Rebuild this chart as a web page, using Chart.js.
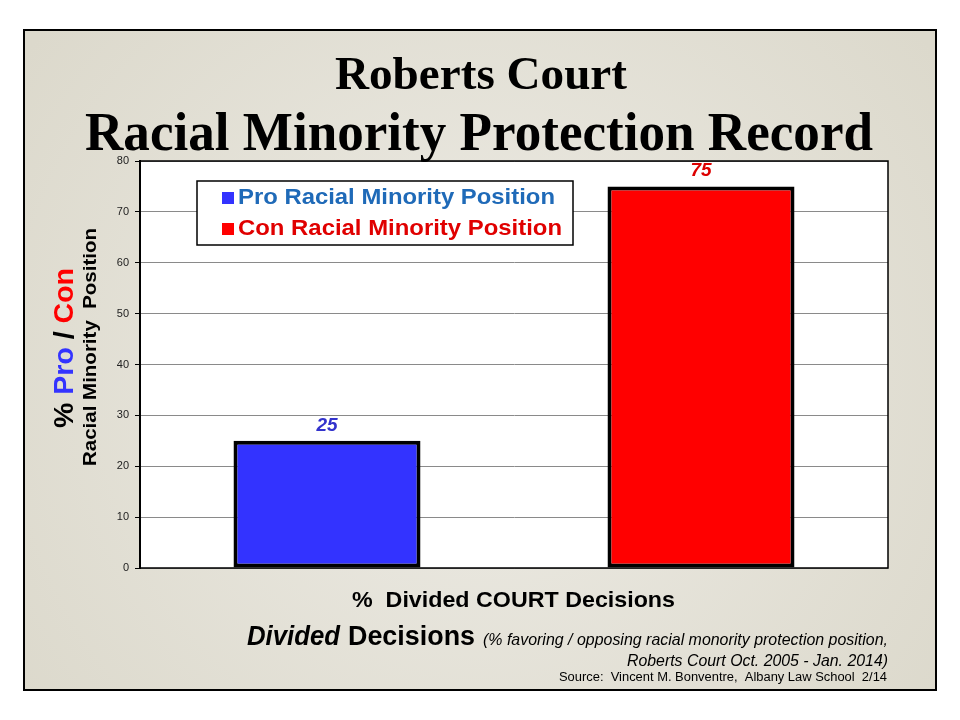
<!DOCTYPE html>
<html>
<head>
<meta charset="utf-8">
<script src="https://cdn.jsdelivr.net/npm/chart.js@4.4.1/dist/chart.umd.min.js"></script>
<style>
  html, body { margin: 0; padding: 0; background: #fff; }
  #wrap { width: 960px; height: 720px; }
</style>
</head>
<body>
<div id="wrap"><canvas id="chart" width="960" height="720"></canvas></div>
<script>
const categories = ["Pro Racial Minority Position", "Con Racial Minority Position"];
const values = [25, 75];
const barColors = ["#3333ff", "#ff0000"];
const legendTextColors = ["#1f6ab8", "#e00000"];
const labelColors = ["#3333cc", "#dd0000"];
const yTicks = [0, 10, 20, 30, 40, 50, 60, 70, 80];

// écrit un texte étiré/compressé pour tenir exactement dans une largeur
function fitText(ctx, text, x, y, width) {
  const w = ctx.measureText(text).width;
  ctx.save();
  ctx.translate(x, y);
  ctx.scale(width / w, 1);
  ctx.textAlign = "left";
  ctx.fillText(text, 0, 0);
  ctx.restore();
}

const slidePlugin = {
  id: "slidePlugin",
  beforeDraw: (chart) => {
    const ctx = chart.ctx;
    const a = chart.chartArea;
    ctx.save();
    ctx.fillStyle = "#ffffff";
    ctx.fillRect(0, 0, chart.width, chart.height);
    const g = ctx.createRadialGradient(480, 380, 50, 480, 380, 560);
    g.addColorStop(0, "#eceae3");
    g.addColorStop(1, "#dcd9cc");
    ctx.fillStyle = g;
    ctx.fillRect(24, 30, 912, 660);
    ctx.lineWidth = 2;
    ctx.strokeStyle = "#000";
    ctx.strokeRect(24, 30, 912, 660);
    ctx.fillStyle = "#ffffff";
    ctx.fillRect(a.left, a.top, a.right - a.left, a.bottom - a.top);
    ctx.restore();
  },
  beforeDatasetsDraw: (chart) => {
    const ctx = chart.ctx;
    const a = chart.chartArea;
    ctx.save();
    ctx.lineWidth = 1.5;
    ctx.strokeStyle = "#000";
    ctx.beginPath();
    ctx.moveTo(a.left, a.top);
    ctx.lineTo(a.right, a.top);
    ctx.lineTo(a.right, a.bottom);
    ctx.lineTo(a.left, a.bottom);
    ctx.stroke();
    ctx.restore();
  },
  afterDraw: (chart) => {
    const ctx = chart.ctx;
    ctx.save();
    ctx.textBaseline = "alphabetic";
    ctx.fillStyle = "#000";

    // titres
    ctx.font = "bold 47px 'Liberation Serif', 'Times New Roman', serif";
    fitText(ctx, "Roberts Court", 335, 89, 292);
    ctx.font = "bold 54px 'Liberation Serif', 'Times New Roman', serif";
    fitText(ctx, "Racial Minority Protection Record", 85, 150, 788);

    // valeurs au-dessus des barres
    const meta = chart.getDatasetMeta(0);
    ctx.textAlign = "center";
    ctx.font = "italic bold 19px 'Liberation Sans', Arial, sans-serif";
    meta.data.forEach((bar, i) => {
      ctx.fillStyle = labelColors[i];
      ctx.fillText(String(values[i]), bar.x, bar.y - 10);
    });

    // légende
    ctx.fillStyle = "#ffffff";
    ctx.fillRect(197, 181, 376, 64);
    ctx.lineWidth = 1.5;
    ctx.strokeStyle = "#000";
    ctx.strokeRect(197, 181, 376, 64);
    ctx.font = "bold 22px 'Liberation Sans', Arial, sans-serif";
    const legendWidths = [317, 324];
    const legendBase = [204, 235];
    categories.forEach((c, i) => {
      ctx.fillStyle = barColors[i];
      ctx.fillRect(222, legendBase[i] - 12, 12, 12);
      ctx.fillStyle = legendTextColors[i];
      fitText(ctx, c, 238, legendBase[i], legendWidths[i]);
    });

    // titre de l'axe Y
    ctx.save();
    ctx.translate(73, 348);
    ctx.rotate(-Math.PI / 2);
    ctx.textAlign = "left";
    ctx.font = "bold 28px 'Liberation Sans', Arial, sans-serif";
    const parts = [["% ", "#000"], ["Pro", "#3333ff"], [" / ", "#000"], ["Con", "#ff0000"]];
    let total = 0;
    parts.forEach((p) => (total += ctx.measureText(p[0]).width));
    ctx.scale(160 / total, 1);
    let px = -total / 2;
    parts.forEach((p) => {
      ctx.fillStyle = p[1];
      ctx.fillText(p[0], px, 0);
      px += ctx.measureText(p[0]).width;
    });
    ctx.restore();
    ctx.save();
    ctx.translate(96, 347);
    ctx.rotate(-Math.PI / 2);
    ctx.fillStyle = "#000";
    ctx.font = "bold 18px 'Liberation Sans', Arial, sans-serif";
    fitText(ctx, "Racial Minority  Position", -119, 0, 238);
    ctx.restore();

    // textes du bas
    ctx.fillStyle = "#000";
    ctx.font = "bold 22px 'Liberation Sans', Arial, sans-serif";
    fitText(ctx, "%  Divided COURT Decisions", 352, 607, 323);

    ctx.font = "italic bold 28px 'Liberation Sans', Arial, sans-serif";
    fitText(ctx, "Divided", 247, 645, 93);
    ctx.font = "bold 28px 'Liberation Sans', Arial, sans-serif";
    fitText(ctx, "Decisions", 348, 645, 127);
    ctx.font = "italic 17px 'Liberation Sans', Arial, sans-serif";
    fitText(ctx, "(% favoring / opposing racial monority protection position,", 483, 645, 405);
    fitText(ctx, "Roberts Court Oct. 2005 - Jan. 2014)", 627, 666, 261);
    ctx.font = "12px 'Liberation Sans', Arial, sans-serif";
    fitText(ctx, "Source:  Vincent M. Bonventre,  Albany Law School  2/14", 559, 681, 328);
    ctx.restore();
  },
};

const ctx = document.getElementById("chart").getContext("2d");
new Chart(ctx, {
  type: "bar",
  data: {
    labels: categories,
    datasets: [
      {
        data: values,
        backgroundColor: barColors,
        borderColor: "#000",
        borderWidth: 4,
        borderSkipped: false,
        barPercentage: 0.5,
        categoryPercentage: 1.0,
      },
    ],
  },
  options: {
    responsive: false,
    animation: false,
    layout: { padding: { left: 100, top: 161, right: 72, bottom: 152 } },
    scales: {
      x: {
        ticks: { display: false },
        grid: { display: false },
        border: { display: false },
        afterFit: (scale) => { scale.height = 0; },
      },
      y: {
        min: 0,
        max: 80,
        afterBuildTicks: (scale) => { scale.ticks = yTicks.map((v) => ({ value: v })); },
        afterFit: (scale) => { scale.width = 40; },
        ticks: {
          color: "#222",
          font: { family: "'Liberation Sans', Arial, sans-serif", size: 11 },
          padding: 6,
        },
        grid: { color: "#8a8a8a", lineWidth: 1, tickLength: 5, tickColor: "#000" },
        border: { display: true, color: "#000", width: 2 },
      },
    },
    plugins: {
      legend: { display: false },
      tooltip: { enabled: false },
    },
  },
  plugins: [slidePlugin],
});
</script>
</body>
</html>
